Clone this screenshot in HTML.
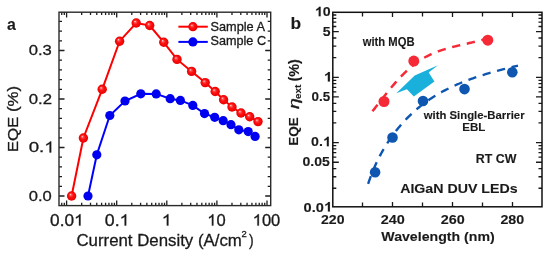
<!DOCTYPE html>
<html><head><meta charset="utf-8"><style>
html,body{margin:0;padding:0;background:#fff;}
svg{display:block;will-change:transform;}
text{font-family:"Liberation Sans",sans-serif;fill:#1a1a1a;}
text:not([font-weight]){stroke:#1a1a1a;stroke-width:0.3px;}
text[font-weight]{stroke:#1a1a1a;stroke-width:0.12px;}
</style></head><body>
<svg width="550" height="257" viewBox="0 0 550 257">
<path d="M61.74 205.6v-2.8M61.74 12.2v2.8M64.31 205.6v-2.8M64.31 12.2v2.8M66.60 205.6v-5.2M66.60 12.2v5.2M81.68 205.6v-2.8M81.68 12.2v2.8M90.50 205.6v-2.8M90.50 12.2v2.8M96.76 205.6v-2.8M96.76 12.2v2.8M101.62 205.6v-2.8M101.62 12.2v2.8M105.59 205.6v-2.8M105.59 12.2v2.8M108.94 205.6v-2.8M108.94 12.2v2.8M111.84 205.6v-2.8M111.84 12.2v2.8M114.41 205.6v-2.8M114.41 12.2v2.8M116.70 205.6v-5.2M116.70 12.2v5.2M131.78 205.6v-2.8M131.78 12.2v2.8M140.60 205.6v-2.8M140.60 12.2v2.8M146.86 205.6v-2.8M146.86 12.2v2.8M151.72 205.6v-2.8M151.72 12.2v2.8M155.69 205.6v-2.8M155.69 12.2v2.8M159.04 205.6v-2.8M159.04 12.2v2.8M161.94 205.6v-2.8M161.94 12.2v2.8M164.51 205.6v-2.8M164.51 12.2v2.8M166.80 205.6v-5.2M166.80 12.2v5.2M181.88 205.6v-2.8M181.88 12.2v2.8M190.70 205.6v-2.8M190.70 12.2v2.8M196.96 205.6v-2.8M196.96 12.2v2.8M201.82 205.6v-2.8M201.82 12.2v2.8M205.79 205.6v-2.8M205.79 12.2v2.8M209.14 205.6v-2.8M209.14 12.2v2.8M212.04 205.6v-2.8M212.04 12.2v2.8M214.61 205.6v-2.8M214.61 12.2v2.8M216.90 205.6v-5.2M216.90 12.2v5.2M231.98 205.6v-2.8M231.98 12.2v2.8M240.80 205.6v-2.8M240.80 12.2v2.8M247.06 205.6v-2.8M247.06 12.2v2.8M251.92 205.6v-2.8M251.92 12.2v2.8M255.89 205.6v-2.8M255.89 12.2v2.8M259.24 205.6v-2.8M259.24 12.2v2.8M262.14 205.6v-2.8M262.14 12.2v2.8M264.71 205.6v-2.8M264.71 12.2v2.8M267.00 205.6v-5.2M267.00 12.2v5.2M59.0 196.00h5.5M270.7 196.00h-5.5M59.0 186.30h3.0M270.7 186.30h-3.0M59.0 176.60h3.0M270.7 176.60h-3.0M59.0 166.90h3.0M270.7 166.90h-3.0M59.0 157.20h3.0M270.7 157.20h-3.0M59.0 147.50h5.5M270.7 147.50h-5.5M59.0 137.80h3.0M270.7 137.80h-3.0M59.0 128.10h3.0M270.7 128.10h-3.0M59.0 118.40h3.0M270.7 118.40h-3.0M59.0 108.70h3.0M270.7 108.70h-3.0M59.0 99.00h5.5M270.7 99.00h-5.5M59.0 89.30h3.0M270.7 89.30h-3.0M59.0 79.60h3.0M270.7 79.60h-3.0M59.0 69.90h3.0M270.7 69.90h-3.0M59.0 60.20h3.0M270.7 60.20h-3.0M59.0 50.50h5.5M270.7 50.50h-5.5M59.0 40.80h3.0M270.7 40.80h-3.0M59.0 31.10h3.0M270.7 31.10h-3.0M59.0 21.40h3.0M270.7 21.40h-3.0" stroke="#1e1e1e" stroke-width="1.3" fill="none"/>
<rect x="59.0" y="12.2" width="211.70" height="193.40" fill="none" stroke="#2a2a2a" stroke-width="1.4"/>
<defs><radialGradient id="rg" cx="0.5" cy="0.5" r="0.5" fx="0.36" fy="0.33"><stop offset="0" stop-color="#ffe8e8"/><stop offset="0.22" stop-color="#ff5050"/><stop offset="0.5" stop-color="#ff1010"/><stop offset="1" stop-color="#e60000"/></radialGradient></defs>
<polyline points="71.6,196 83.4,138 102.2,89.3 119.6,41.2 136.2,23.0 149.7,25.5 163.8,42.3 177.0,59.4 191.6,71.4 205.2,82.6 215.2,91.5 223.6,99.7 232.0,107.0 241.0,113.0 249.7,116.8 258.0,121.6" fill="none" stroke="#ff0000" stroke-width="2"/>
<polyline points="88.0,196 96.8,154.8 109.8,115.5 125.0,101.0 140.8,93.8 156.2,93.9 170.2,98.7 180.4,100.4 192.8,105.4 204.5,113.6 214.7,117.3 223.2,120.7 231.0,124.7 238.8,129.8 248.2,131.6 255.1,136.4" fill="none" stroke="#0000ff" stroke-width="2"/>
<circle cx="71.6" cy="196" r="4.7" fill="url(#rg)"/>
<circle cx="83.4" cy="138" r="4.7" fill="url(#rg)"/>
<circle cx="102.2" cy="89.3" r="4.7" fill="url(#rg)"/>
<circle cx="119.6" cy="41.2" r="4.7" fill="url(#rg)"/>
<circle cx="136.2" cy="23.0" r="4.7" fill="url(#rg)"/>
<circle cx="149.7" cy="25.5" r="4.7" fill="url(#rg)"/>
<circle cx="163.8" cy="42.3" r="4.7" fill="url(#rg)"/>
<circle cx="177.0" cy="59.4" r="4.7" fill="url(#rg)"/>
<circle cx="191.6" cy="71.4" r="4.7" fill="url(#rg)"/>
<circle cx="205.2" cy="82.6" r="4.7" fill="url(#rg)"/>
<circle cx="215.2" cy="91.5" r="4.7" fill="url(#rg)"/>
<circle cx="223.6" cy="99.7" r="4.7" fill="url(#rg)"/>
<circle cx="232.0" cy="107.0" r="4.7" fill="url(#rg)"/>
<circle cx="241.0" cy="113.0" r="4.7" fill="url(#rg)"/>
<circle cx="249.7" cy="116.8" r="4.7" fill="url(#rg)"/>
<circle cx="258.0" cy="121.6" r="4.7" fill="url(#rg)"/>
<circle cx="88.0" cy="196" r="4.6" fill="#0000f0"/>
<circle cx="96.8" cy="154.8" r="4.6" fill="#0000f0"/>
<circle cx="109.8" cy="115.5" r="4.6" fill="#0000f0"/>
<circle cx="125.0" cy="101.0" r="4.6" fill="#0000f0"/>
<circle cx="140.8" cy="93.8" r="4.6" fill="#0000f0"/>
<circle cx="156.2" cy="93.9" r="4.6" fill="#0000f0"/>
<circle cx="170.2" cy="98.7" r="4.6" fill="#0000f0"/>
<circle cx="180.4" cy="100.4" r="4.6" fill="#0000f0"/>
<circle cx="192.8" cy="105.4" r="4.6" fill="#0000f0"/>
<circle cx="204.5" cy="113.6" r="4.6" fill="#0000f0"/>
<circle cx="214.7" cy="117.3" r="4.6" fill="#0000f0"/>
<circle cx="223.2" cy="120.7" r="4.6" fill="#0000f0"/>
<circle cx="231.0" cy="124.7" r="4.6" fill="#0000f0"/>
<circle cx="238.8" cy="129.8" r="4.6" fill="#0000f0"/>
<circle cx="248.2" cy="131.6" r="4.6" fill="#0000f0"/>
<circle cx="255.1" cy="136.4" r="4.6" fill="#0000f0"/>
<path d="M178.4 26.7H207.8" stroke="#ff0000" stroke-width="2"/>
<circle cx="192.9" cy="26.7" r="4.6" fill="url(#rg)"/>
<path d="M178.4 41.9H207.8" stroke="#0000ff" stroke-width="2"/>
<circle cx="192.9" cy="41.9" r="4.6" fill="#0000f0"/>
<text x="210.53" y="30.7" font-size="12.2" textLength="54.48" lengthAdjust="spacingAndGlyphs">Sample A</text>
<text x="210.53" y="45.3" font-size="12.2" textLength="55.52" lengthAdjust="spacingAndGlyphs">Sample C</text>
<text x="28.74" y="200.9" font-size="15.3" textLength="23.05" lengthAdjust="spacingAndGlyphs">0.0</text>
<text x="28.65" y="152.4" font-size="15.3" textLength="15.58" lengthAdjust="spacingAndGlyphs">0.</text><path transform="translate(44.24,152.4) scale(18.687,-15.300)" d="M0.3726 0L0.2847 0L0.2847 0.5601Q0.2529 0.5298 0.2012 0.4995Q0.1494 0.4692 0.1084 0.4541L0.1084 0.5391Q0.1821 0.5737 0.2373 0.623Q0.2925 0.6724 0.3154 0.7188L0.3726 0.7188Z" fill="#1a1a1a" stroke="#1a1a1a" stroke-width="0.3" vector-effect="non-scaling-stroke"/>
<text x="28.73" y="103.9" font-size="15.3" textLength="23.31" lengthAdjust="spacingAndGlyphs">0.2</text>
<text x="28.73" y="55.4" font-size="15.3" textLength="23.13" lengthAdjust="spacingAndGlyphs">0.3</text>
<text x="50.11" y="225.6" font-size="15.8" textLength="23.97" lengthAdjust="spacingAndGlyphs">0.0</text><path transform="translate(74.08,225.6) scale(17.240,-15.800)" d="M0.3726 0L0.2847 0L0.2847 0.5601Q0.2529 0.5298 0.2012 0.4995Q0.1494 0.4692 0.1084 0.4541L0.1084 0.5391Q0.1821 0.5737 0.2373 0.623Q0.2925 0.6724 0.3154 0.7188L0.3726 0.7188Z" fill="#1a1a1a" stroke="#1a1a1a" stroke-width="0.3" vector-effect="non-scaling-stroke"/>
<text x="104.79" y="225.6" font-size="15.8" textLength="14.80" lengthAdjust="spacingAndGlyphs">0.</text><path transform="translate(119.59,225.6) scale(17.744,-15.800)" d="M0.3726 0L0.2847 0L0.2847 0.5601Q0.2529 0.5298 0.2012 0.4995Q0.1494 0.4692 0.1084 0.4541L0.1084 0.5391Q0.1821 0.5737 0.2373 0.623Q0.2925 0.6724 0.3154 0.7188L0.3726 0.7188Z" fill="#1a1a1a" stroke="#1a1a1a" stroke-width="0.3" vector-effect="non-scaling-stroke"/>
<path transform="translate(161.77,225.6) scale(17.790,-15.800)" d="M0.3726 0L0.2847 0L0.2847 0.5601Q0.2529 0.5298 0.2012 0.4995Q0.1494 0.4692 0.1084 0.4541L0.1084 0.5391Q0.1821 0.5737 0.2373 0.623Q0.2925 0.6724 0.3154 0.7188L0.3726 0.7188Z" fill="#1a1a1a" stroke="#1a1a1a" stroke-width="0.3" vector-effect="non-scaling-stroke"/>
<path transform="translate(207.21,225.6) scale(16.533,-15.800)" d="M0.3726 0L0.2847 0L0.2847 0.5601Q0.2529 0.5298 0.2012 0.4995Q0.1494 0.4692 0.1084 0.4541L0.1084 0.5391Q0.1821 0.5737 0.2373 0.623Q0.2925 0.6724 0.3154 0.7188L0.3726 0.7188Z" fill="#1a1a1a" stroke="#1a1a1a" stroke-width="0.3" vector-effect="non-scaling-stroke"/><text x="216.40" y="225.6" font-size="15.8" textLength="9.20" lengthAdjust="spacingAndGlyphs">0</text>
<path transform="translate(252.71,225.6) scale(16.536,-15.800)" d="M0.3726 0L0.2847 0L0.2847 0.5601Q0.2529 0.5298 0.2012 0.4995Q0.1494 0.4692 0.1084 0.4541L0.1084 0.5391Q0.1821 0.5737 0.2373 0.623Q0.2925 0.6724 0.3154 0.7188L0.3726 0.7188Z" fill="#1a1a1a" stroke="#1a1a1a" stroke-width="0.3" vector-effect="non-scaling-stroke"/><text x="261.90" y="225.6" font-size="15.8" textLength="18.39" lengthAdjust="spacingAndGlyphs">00</text>
<text x="76.46" y="245.5" font-size="16.4" textLength="165.36" lengthAdjust="spacingAndGlyphs">Current Density (A/cm</text>
<text x="241.53" y="236.6" font-size="9.2" textLength="5.26" lengthAdjust="spacingAndGlyphs">2</text>
<text x="248.93" y="245.5" font-size="16.4" textLength="4.65" lengthAdjust="spacingAndGlyphs">)</text>
<text transform="translate(17.6,152.35) rotate(-90)" font-size="15.0" textLength="66.44" lengthAdjust="spacingAndGlyphs">EQE (%)</text>
<text x="7.02" y="29.9" font-size="16.5" textLength="8.84" lengthAdjust="spacingAndGlyphs" font-weight="bold" stroke="#1a1a1a" stroke-width="0.5">a</text>
<path d="M362.50 206.8v-4.2M362.50 12.3v4.2M392.50 206.8v-4.8M392.50 12.3v4.8M422.50 206.8v-4.2M422.50 12.3v4.2M452.50 206.8v-4.8M452.50 12.3v4.8M482.50 206.8v-4.2M482.50 12.3v4.2M512.50 206.8v-4.8M512.50 12.3v4.8M332.8 188.24h3.5M542.0 188.24h-3.5M332.8 176.74h3.5M542.0 176.74h-3.5M332.8 168.59h3.5M542.0 168.59h-3.5M332.8 162.26h6M542.0 162.26h-6M332.8 157.09h3.5M542.0 157.09h-3.5M332.8 152.72h3.5M542.0 152.72h-3.5M332.8 148.93h3.5M542.0 148.93h-3.5M332.8 145.59h3.5M542.0 145.59h-3.5M332.8 142.60h6M542.0 142.60h-6M332.8 122.94h3.5M542.0 122.94h-3.5M332.8 111.44h3.5M542.0 111.44h-3.5M332.8 103.29h3.5M542.0 103.29h-3.5M332.8 96.96h6M542.0 96.96h-6M332.8 91.79h3.5M542.0 91.79h-3.5M332.8 87.42h3.5M542.0 87.42h-3.5M332.8 83.63h3.5M542.0 83.63h-3.5M332.8 80.29h3.5M542.0 80.29h-3.5M332.8 77.30h6M542.0 77.30h-6M332.8 57.64h3.5M542.0 57.64h-3.5M332.8 46.14h3.5M542.0 46.14h-3.5M332.8 37.99h3.5M542.0 37.99h-3.5M332.8 31.66h6M542.0 31.66h-6M332.8 26.49h3.5M542.0 26.49h-3.5M332.8 22.12h3.5M542.0 22.12h-3.5M332.8 18.33h3.5M542.0 18.33h-3.5M332.8 14.99h3.5M542.0 14.99h-3.5" stroke="#1a1a1a" stroke-width="1.3" fill="none"/>
<rect x="332.8" y="12.3" width="209.20" height="194.50" fill="none" stroke="#111" stroke-width="1.5"/>
<path transform="translate(314.84,16.3) scale(14.154,-13.300)" d="M0.4106 0L0.2734 0L0.2734 0.5171Q0.1982 0.4468 0.0962 0.4131L0.0962 0.5376Q0.1499 0.5552 0.2129 0.6045Q0.2759 0.6538 0.2993 0.7192L0.4106 0.7192Z" fill="#1a1a1a" stroke="#1a1a1a" stroke-width="0.12" vector-effect="non-scaling-stroke"/><text x="322.71" y="16.3" font-size="13.3" textLength="7.87" lengthAdjust="spacingAndGlyphs" font-weight="bold">0</text>
<text x="322.78" y="35.5" font-size="13.3" textLength="7.79" lengthAdjust="spacingAndGlyphs" font-weight="bold">5</text>
<path transform="translate(323.76,81.5) scale(14.949,-13.300)" d="M0.4106 0L0.2734 0L0.2734 0.5171Q0.1982 0.4468 0.0962 0.4131L0.0962 0.5376Q0.1499 0.5552 0.2129 0.6045Q0.2759 0.6538 0.2993 0.7192L0.4106 0.7192Z" fill="#1a1a1a" stroke="#1a1a1a" stroke-width="0.12" vector-effect="non-scaling-stroke"/>
<text x="311.56" y="101.0" font-size="13.3" textLength="18.68" lengthAdjust="spacingAndGlyphs" font-weight="bold">0.5</text>
<text x="311.13" y="146.3" font-size="13.3" textLength="11.84" lengthAdjust="spacingAndGlyphs" font-weight="bold">0.</text><path transform="translate(322.97,146.3) scale(14.196,-13.300)" d="M0.4106 0L0.2734 0L0.2734 0.5171Q0.1982 0.4468 0.0962 0.4131L0.0962 0.5376Q0.1499 0.5552 0.2129 0.6045Q0.2759 0.6538 0.2993 0.7192L0.4106 0.7192Z" fill="#1a1a1a" stroke="#1a1a1a" stroke-width="0.12" vector-effect="non-scaling-stroke"/>
<text x="302.54" y="165.6" font-size="13.3" textLength="27.33" lengthAdjust="spacingAndGlyphs" font-weight="bold">0.05</text>
<text x="303.62" y="211.5" font-size="13.3" textLength="20.29" lengthAdjust="spacingAndGlyphs" font-weight="bold">0.0</text><path transform="translate(323.91,211.5) scale(14.596,-13.300)" d="M0.4106 0L0.2734 0L0.2734 0.5171Q0.1982 0.4468 0.0962 0.4131L0.0962 0.5376Q0.1499 0.5552 0.2129 0.6045Q0.2759 0.6538 0.2993 0.7192L0.4106 0.7192Z" fill="#1a1a1a" stroke="#1a1a1a" stroke-width="0.12" vector-effect="non-scaling-stroke"/>
<text x="321.01" y="223.7" font-size="13.5" textLength="23.51" lengthAdjust="spacingAndGlyphs" font-weight="bold">220</text>
<text x="380.79" y="223.7" font-size="13.5" textLength="24.14" lengthAdjust="spacingAndGlyphs" font-weight="bold">240</text>
<text x="440.8" y="223.7" font-size="13.5" textLength="24.03" lengthAdjust="spacingAndGlyphs" font-weight="bold">260</text>
<text x="500.4" y="223.7" font-size="13.5" textLength="23.82" lengthAdjust="spacingAndGlyphs" font-weight="bold">280</text>
<text x="381.3" y="240.5" font-size="13.5" textLength="113.49" lengthAdjust="spacingAndGlyphs" font-weight="bold">Wavelength (nm)</text>
<text x="290.57" y="29.2" font-size="15.8" textLength="10.64" lengthAdjust="spacingAndGlyphs" font-weight="bold" stroke="#1a1a1a" stroke-width="0.4">b</text>
<path d="M372.43 111.33 L373.41 110.09 L374.39 108.85 L375.37 107.60 L376.35 106.35 L377.33 105.10 L378.31 103.84 L379.29 102.58 L380.27 101.32 L381.25 100.06 L382.24 98.80 L383.22 97.53 L384.21 96.27 L385.21 95.01 L386.20 93.76 L387.20 92.50 L388.21 91.25 L389.22 90.01 L390.23 88.76 L391.25 87.53 L392.28 86.30 L393.31 85.08 L394.35 83.86 L395.40 82.66 L396.45 81.46 L397.51 80.28 L398.58 79.10 L399.66 77.94 L400.75 76.78 L401.85 75.64 L402.95 74.52 L404.07 73.40 L405.20 72.30 L406.34 71.22 L407.49 70.15 L408.66 69.10 L409.84 68.07 L411.02 67.05 L412.23 66.06 L413.44 65.08 L414.67 64.12 L415.92 63.19 L417.18 62.27 L418.45 61.38 L419.74 60.51 L421.05 59.66 L422.37 58.84 L423.71 58.04 L425.07 57.27 L426.44 56.52 L427.83 55.80 L429.24 55.11 L430.67 54.44 L432.11 53.80 L433.57 53.18 L435.04 52.58 L436.53 52.01 L438.03 51.45 L439.54 50.92 L441.06 50.40 L442.59 49.90 L444.13 49.42 L445.67 48.95 L447.23 48.50 L448.79 48.06 L450.35 47.63 L451.92 47.21 L453.50 46.81 L455.07 46.41 L456.65 46.02 L458.23 45.64 L459.81 45.26 L461.39 44.89 L462.97 44.53 L464.54 44.17 L466.11 43.81 L467.68 43.45 L469.24 43.09 L470.80 42.73 L472.35 42.37 L473.89 42.01 L475.42 41.64 L476.95 41.27 L478.46 40.89 L479.96 40.50 L481.45 40.11 L482.93 39.71 L484.39 39.30 L485.84 38.87 L487.27 38.44" fill="none" stroke="#f52a36" stroke-width="2.5" stroke-dasharray="8.3 6.7" stroke-dashoffset="0"/>
<path d="M367.55 185.85 L368.12 184.03 L368.71 182.21 L369.32 180.41 L369.95 178.61 L370.60 176.82 L371.27 175.04 L371.96 173.26 L372.66 171.50 L373.38 169.75 L374.12 168.00 L374.88 166.27 L375.65 164.55 L376.45 162.83 L377.26 161.13 L378.09 159.43 L378.93 157.75 L379.80 156.08 L380.68 154.42 L381.58 152.77 L382.49 151.13 L383.43 149.51 L384.38 147.89 L385.35 146.29 L386.33 144.70 L387.33 143.13 L388.35 141.56 L389.39 140.01 L390.44 138.47 L391.51 136.95 L392.59 135.44 L393.69 133.94 L394.81 132.46 L395.95 130.99 L397.10 129.54 L398.27 128.10 L399.45 126.67 L400.65 125.27 L401.87 123.87 L403.10 122.49 L404.34 121.13 L405.61 119.78 L406.89 118.45 L408.18 117.14 L409.49 115.84 L410.82 114.56 L412.16 113.29 L413.51 112.04 L414.89 110.81 L416.27 109.60 L417.67 108.40 L419.09 107.23 L420.52 106.07 L421.97 104.93 L423.43 103.80 L424.91 102.70 L426.40 101.61 L427.91 100.55 L429.43 99.50 L430.96 98.48 L432.51 97.47 L434.07 96.48 L435.65 95.51 L437.24 94.56 L438.84 93.62 L440.45 92.71 L442.08 91.81 L443.72 90.93 L445.37 90.07 L447.03 89.22 L448.70 88.39 L450.38 87.58 L452.07 86.78 L453.77 85.99 L455.47 85.23 L457.19 84.47 L458.91 83.74 L460.65 83.01 L462.39 82.30 L464.13 81.61 L465.89 80.92 L467.65 80.26 L469.41 79.60 L471.18 78.96 L472.96 78.32 L474.74 77.70 L476.53 77.10 L478.32 76.50 L480.11 75.92 L481.91 75.34 L483.71 74.78 L485.51 74.22 L487.32 73.68 L489.12 73.15 L490.93 72.62 L492.74 72.11 L494.55 71.60 L496.36 71.10 L498.17 70.61 L499.98 70.13 L501.79 69.66 L503.60 69.19 L505.40 68.73 L507.21 68.28 L509.01 67.83 L510.81 67.39 L512.60 66.96 L514.40 66.53 L516.19 66.10 L517.97 65.68" fill="none" stroke="#0e56b0" stroke-width="2.4" stroke-dasharray="8.3 6.7" stroke-dashoffset="13"/>
<circle cx="384.0" cy="101.5" r="5.5" fill="#f52a36"/>
<circle cx="413.8" cy="61.1" r="5.5" fill="#f52a36"/>
<circle cx="487.8" cy="40.2" r="5.5" fill="#f52a36"/>
<circle cx="375.1" cy="172.2" r="5.3" fill="#0e56b0"/>
<circle cx="392.5" cy="137.5" r="5.3" fill="#0e56b0"/>
<circle cx="423.0" cy="101.0" r="5.3" fill="#0e56b0"/>
<circle cx="464.5" cy="89.1" r="5.3" fill="#0e56b0"/>
<circle cx="512.3" cy="72.2" r="5.3" fill="#0e56b0"/>
<polygon points="396.3,93.3 414.7,75.4 437.9,65.3 428.7,72.6 434.4,81.6 413.8,96.6 406.9,89.3" fill="#19b0dc"/>
<text x="362.76" y="45.5" font-size="12" textLength="51.85" lengthAdjust="spacingAndGlyphs" font-weight="bold">with MQB</text>
<text x="423.66" y="119.0" font-size="11.3" textLength="100.92" lengthAdjust="spacingAndGlyphs" font-weight="bold">with Single-Barrier</text>
<text x="462.25" y="131.4" font-size="11.3" textLength="23.1" lengthAdjust="spacingAndGlyphs" font-weight="bold">EBL</text>
<text x="475.89" y="162.9" font-size="12.0" textLength="40.67" lengthAdjust="spacingAndGlyphs" font-weight="bold">RT CW</text>
<text x="400.15" y="192.5" font-size="13.5" textLength="117.41" lengthAdjust="spacingAndGlyphs" font-weight="bold">AlGaN DUV LEDs</text>
<text transform="translate(297.8,145.78) rotate(-90)" font-size="12.3" textLength="28.47" lengthAdjust="spacingAndGlyphs" font-weight="bold">EQE</text>
<text transform="translate(298.9,108.97) rotate(-90)" font-size="13.8" textLength="10.87" lengthAdjust="spacingAndGlyphs" font-family="Liberation Serif" font-style="italic">η</text>
<text transform="translate(300.8,98.89) rotate(-90)" font-size="9.8" textLength="14.25" lengthAdjust="spacingAndGlyphs" font-weight="bold">ext</text>
<text transform="translate(299.0,81.52) rotate(-90)" font-size="14.5" textLength="22.45" lengthAdjust="spacingAndGlyphs" font-weight="bold">(%)</text>
</svg>
</body></html>
